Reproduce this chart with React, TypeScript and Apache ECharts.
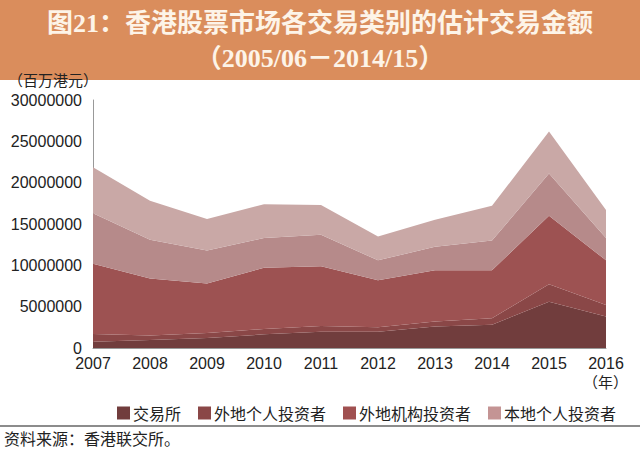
import React, { useEffect, useRef } from "react";
import * as echarts from "echarts";

const years = ["2007", "2008", "2009", "2010", "2011", "2012", "2013", "2014", "2015", "2016"];
const exchange = [760000, 970000, 1200000, 1650000, 1970000, 1970000, 2600000, 2800000, 5600000, 3800000];
const overseasRetail = [940000, 530000, 600000, 650000, 690000, 530000, 600000, 800000, 2100000, 1400000];
const overseasInst = [8500000, 6900000, 6000000, 7400000, 7240000, 5700000, 6200000, 5800000, 8300000, 5400000];
const localRetail = [6100000, 4700000, 4000000, 3600000, 3800000, 2400000, 2850000, 3600000, 5100000, 2700000];
const localInst = [5550000, 4700000, 3800000, 4100000, 3600000, 2900000, 3250000, 4200000, 5100000, 3400000];
const yTicks = [0, 5000000, 10000000, 15000000, 20000000, 25000000, 30000000];

const seriesNames = ["交易所", "外地个人投资者", "外地机构投资者", "本地个人投资者", "本地机构投资者"];
const seriesColors = ["#713d3d", "#8a4747", "#9d5252", "#b68a8a", "#c9a8a6"];
const legendColors = ["#713d3d", "#8a4747", "#a05050", "#c49494"];

export default function App() {
  const ref = useRef<HTMLDivElement>(null);
  useEffect(() => {
    if (!ref.current) return;
    const chart = echarts.init(ref.current, null, { renderer: "svg" });
    const data = [exchange, overseasRetail, overseasInst, localRetail, localInst];
    const latin = "'Liberation Sans', 'Noto Sans CJK SC', sans-serif";
    const serif = "'Liberation Serif', 'Noto Sans CJK SC', serif";
    chart.setOption({
      animation: false,
      backgroundColor: "#ffffff",
      grid: { left: 93, right: 34, top: 100, bottom: 104, containLabel: false },
      xAxis: {
        type: "category",
        data: years,
        boundaryGap: false,
        axisLine: { show: true, lineStyle: { color: "#999", width: 1 } },
        axisTick: { show: false },
        axisLabel: { fontSize: 16, color: "#222", margin: 7, fontFamily: latin },
      },
      yAxis: {
        type: "value",
        min: yTicks[0],
        max: yTicks[yTicks.length - 1],
        interval: 5000000,
        splitLine: { show: false },
        axisLine: { show: true, lineStyle: { color: "#999", width: 1 } },
        axisTick: { show: false },
        axisLabel: { fontSize: 16, color: "#222", margin: 11, fontFamily: latin, formatter: (v: number) => String(v) },
      },
      legend: {
        left: 112,
        top: 400,
        itemWidth: 13,
        itemHeight: 13,
        itemGap: 17,
        icon: "rect",
        data: seriesNames.slice(0, 4).map((n, i) => ({ name: n, itemStyle: { color: legendColors[i] } })),
        textStyle: { fontSize: 16, color: "#222", fontFamily: "'Noto Sans CJK SC', sans-serif", padding: [0, 0, 0, -2] },
      },
      series: data.map((d, i) => ({
        name: seriesNames[i],
        type: "line",
        stack: "total",
        data: d,
        symbol: "none",
        lineStyle: { width: 0 },
        areaStyle: { color: seriesColors[i], opacity: 1 },
        itemStyle: { color: seriesColors[i] },
      })),
      graphic: [
        { type: "rect", left: 0, top: 0, shape: { width: 640, height: 80 }, style: { fill: "#da8d5c" } },
        {
          type: "text", left: "center", top: 10,
          style: { text: "图21：香港股票市场各交易类别的估计交易金额", fontSize: 26, fontWeight: "bold", fill: "#fdf4e8", fontFamily: serif },
        },
        {
          type: "text", left: "center", top: 45,
          style: { text: "（2005/06－2014/15）", fontSize: 26, fontWeight: "bold", fill: "#fdf4e8", fontFamily: serif },
        },
        {
          type: "text", left: 8, top: 72,
          style: { text: "（百万港元）", fontSize: 15, fill: "#222", fontFamily: "'Noto Sans CJK SC', sans-serif" },
        },
        {
          type: "text", left: 583, top: 374,
          style: { text: "（年）", fontSize: 15, fill: "#222", fontFamily: "'Noto Sans CJK SC', sans-serif" },
        },
        { type: "rect", left: 0, top: 425, shape: { width: 640, height: 2 }, style: { fill: "#8c8c8c" } },
        {
          type: "text", left: 4, top: 430,
          style: { text: "资料来源：香港联交所。", fontSize: 16, fill: "#222", fontFamily: "'Noto Sans CJK SC', sans-serif" },
        },
      ],
    });
    return () => chart.dispose();
  }, []);
  return <div ref={ref} style={{ width: 640, height: 452, position: "absolute", left: 0, top: 0 }} />;
}
